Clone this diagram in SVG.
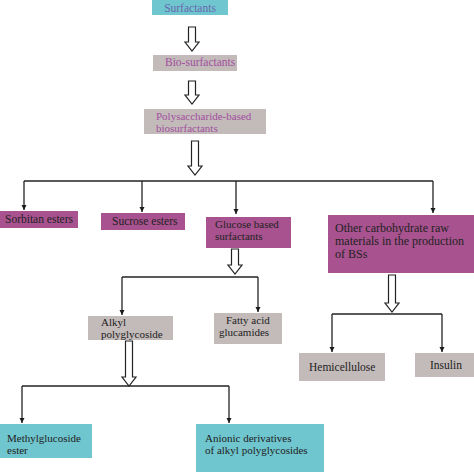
<svg xmlns="http://www.w3.org/2000/svg" width="474" height="474" viewBox="0 0 474 474">
<defs>
<marker id="ah" viewBox="0 0 10 10" refX="10" refY="5" markerWidth="5" markerHeight="6" markerUnits="userSpaceOnUse" orient="auto"><path d="M0,0 L10,5 L0,10 z" fill="#1a1a1a"/></marker>
<style>
text{font-family:"Liberation Serif","Times New Roman",serif;font-size:11.5px;fill:#222}
.s2{font-size:11px}
.teal{fill:#6fc6cf}
.gray{fill:#c3baba}
.mag{fill:#a8528f}
.pt{fill:#a24f9f}
.bt{fill:#6a68ad}
.ln{fill:none;stroke:#222;stroke-width:1.3}
.ha{fill:#fff;stroke:#222;stroke-width:1.2}
</style>
</defs>
<rect width="474" height="474" fill="#fff"/>
<g id="connectors">
<path class="ha" d="M188.5,27 h7 v15 h3.5 l-7,9 l-7,-9 h3.5 z"/>
<path class="ha" d="M188.5,81 h7 v14 h3.5 l-7,9 l-7,-9 h3.5 z"/>
<path class="ha" d="M191.5,141 h7 v25 h3.5 l-7,9 l-7,-9 h3.5 z"/>
<path class="ln" d="M24,181 H433"/>
<path class="ln" d="M24,181 V210" marker-end="url(#ah)"/>
<path class="ln" d="M142,181 V212" marker-end="url(#ah)"/>
<path class="ln" d="M236,181 V214" marker-end="url(#ah)"/>
<path class="ln" d="M433,181 V213" marker-end="url(#ah)"/>
<path class="ha" d="M231.5,249 h7 v16 h3.5 l-7,9 l-7,-9 h3.5 z"/>
<path class="ln" d="M122,277 H258"/>
<path class="ln" d="M122,277 V315" marker-end="url(#ah)"/>
<path class="ln" d="M258,277 V312" marker-end="url(#ah)"/>
<path class="ha" d="M388.5,275 h7 v28 h3.5 l-7,9 l-7,-9 h3.5 z"/>
<path class="ln" d="M332,314 H442"/>
<path class="ln" d="M332,314 V352" marker-end="url(#ah)"/>
<path class="ln" d="M442,314 V352" marker-end="url(#ah)"/>
<path class="ha" d="M125.5,341 h7 v36 h3.5 l-7,9 l-7,-9 h3.5 z"/>
<path class="ln" d="M22,386 H229"/>
<path class="ln" d="M22,386 V423" marker-end="url(#ah)"/>
<path class="ln" d="M229,386 V423" marker-end="url(#ah)"/>
</g>
<g id="surfactants"><rect class="teal" x="152" y="0" width="76" height="15"/><text class="bt" x="190" y="12" text-anchor="middle">Surfactants</text></g>
<g id="bio-surfactants"><rect class="gray" x="153" y="55" width="84" height="16"/><text class="pt" x="165" y="66">Bio-surfactants</text></g>
<g id="polysaccharide"><rect class="gray" x="144" y="109" width="122" height="25"/><text class="pt s2" x="156" y="120">Polysaccharide-based</text><text class="pt s2" x="156" y="132">biosurfactants</text></g>
<g id="sorbitan"><rect class="mag" x="0" y="211" width="78" height="17"/><text x="5" y="223">Sorbitan esters</text></g>
<g id="sucrose"><rect class="mag" x="101" y="213" width="84" height="17"/><text x="112" y="225">Sucrose esters</text></g>
<g id="glucose"><rect class="mag" x="206" y="217" width="85" height="31"/><text class="s2" x="215" y="228">Glucose based</text><text class="s2" x="215" y="240">surfactants</text></g>
<g id="other"><rect class="mag" x="328" y="215" width="146" height="58"/><text x="335" y="232" style="font-size:12px">Other carbohydrate raw</text><text x="335" y="245" style="font-size:12px">materials in the production</text><text x="335" y="258" style="font-size:12px">of BSs</text></g>
<g id="alkyl"><rect class="gray" x="88" y="316" width="85" height="24"/><text class="s2" x="101" y="326">Alkyl</text><text class="s2" x="101" y="338">polyglycoside</text></g>
<g id="fatty"><rect class="gray" x="214" y="313" width="68" height="31"/><text class="s2" x="226" y="324">Fatty acid</text><text class="s2" x="219" y="336">glucamides</text></g>
<g id="hemicellulose"><rect class="gray" x="299" y="353" width="86" height="28"/><text x="309" y="371">Hemicellulose</text></g>
<g id="insulin"><rect class="gray" x="415" y="353" width="59" height="24"/><text x="430" y="369">Insulin</text></g>
<g id="methylglucoside"><rect class="teal" x="0" y="424" width="92" height="34"/><text class="s2" x="7" y="442">Methylglucoside</text><text class="s2" x="7" y="454">ester</text></g>
<g id="anionic"><rect class="teal" x="196" y="424" width="128" height="48"/><text class="s2" x="205" y="442">Anionic derivatives</text><text class="s2" x="205" y="454">of alkyl polyglycosides</text></g>
</svg>
